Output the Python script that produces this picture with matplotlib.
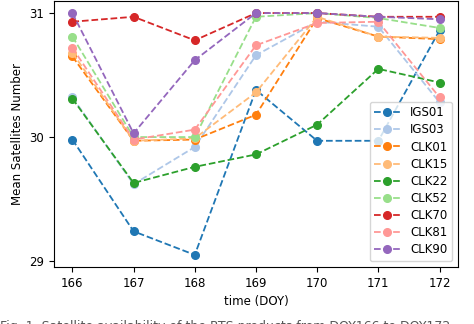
import matplotlib
matplotlib.use('Agg')
import matplotlib.pyplot as plt

days = [166, 167, 168, 169, 170, 171, 172]

names = ['IGS01', 'IGS03', 'CLK01', 'CLK15', 'CLK22', 'CLK52', 'CLK70', 'CLK81', 'CLK90']
colors = ['#1f77b4', '#aec7e8', '#ff7f0e', '#ffbb78', '#2ca02c',
          '#98df8a', '#d62728', '#ff9896', '#9467bd']

igs01 = [29.98, 29.24, 29.05, 30.38, 29.97, 29.97, 30.86]
igs03 = [30.32, 29.62, 29.92, 30.66, 30.93, 30.89, 30.28]
clk01 = [30.65, 29.97, 29.98, 30.18, 30.96, 30.81, 30.79]
clk15 = [30.68, 29.97, 29.99, 30.36, 30.97, 30.81, 30.80]
clk22 = [30.31, 29.63, 29.76, 29.86, 30.10, 30.55, 30.44]
clk52 = [30.81, 30.00, 30.00, 30.97, 31.00, 30.96, 30.88]
clk70 = [30.93, 30.97, 30.78, 31.00, 31.00, 30.97, 30.97]
clk81 = [30.72, 29.98, 30.06, 30.74, 30.92, 30.93, 30.32]
clk90 = [31.00, 30.03, 30.62, 31.00, 31.00, 30.97, 30.95]

series = [igs01, igs03, clk01, clk15, clk22, clk52, clk70, clk81, clk90]

fig = plt.figure(figsize=(4.74, 3.24), dpi=100)
ax = fig.add_axes([0.114, 0.176, 0.852, 0.821])

for name, vals, c in zip(names, series, colors):
    ax.plot(days, vals, '--o', color=c, label=name, markersize=5.5, linewidth=1.3)

ax.set_yticks([29, 30, 31])
ax.set_xticks(days)
ax.tick_params(labelsize=8.5)
ax.set_xlabel('time (DOY)', fontsize=8.5)
ax.set_ylabel('Mean Satellites Number', fontsize=8.5)
ax.legend(loc='lower right', fontsize=8.5, handlelength=2.2, labelspacing=0.35)

# caption of the paper figure, only its top shows at the bottom edge
fig.text(0.0, 0.012, 'Fig. 1. Satellite availability of the RTS products from DOY166 to DOY172',
         fontsize=9, color='#555555', va='top')

fig.savefig('out.png', dpi=100)
